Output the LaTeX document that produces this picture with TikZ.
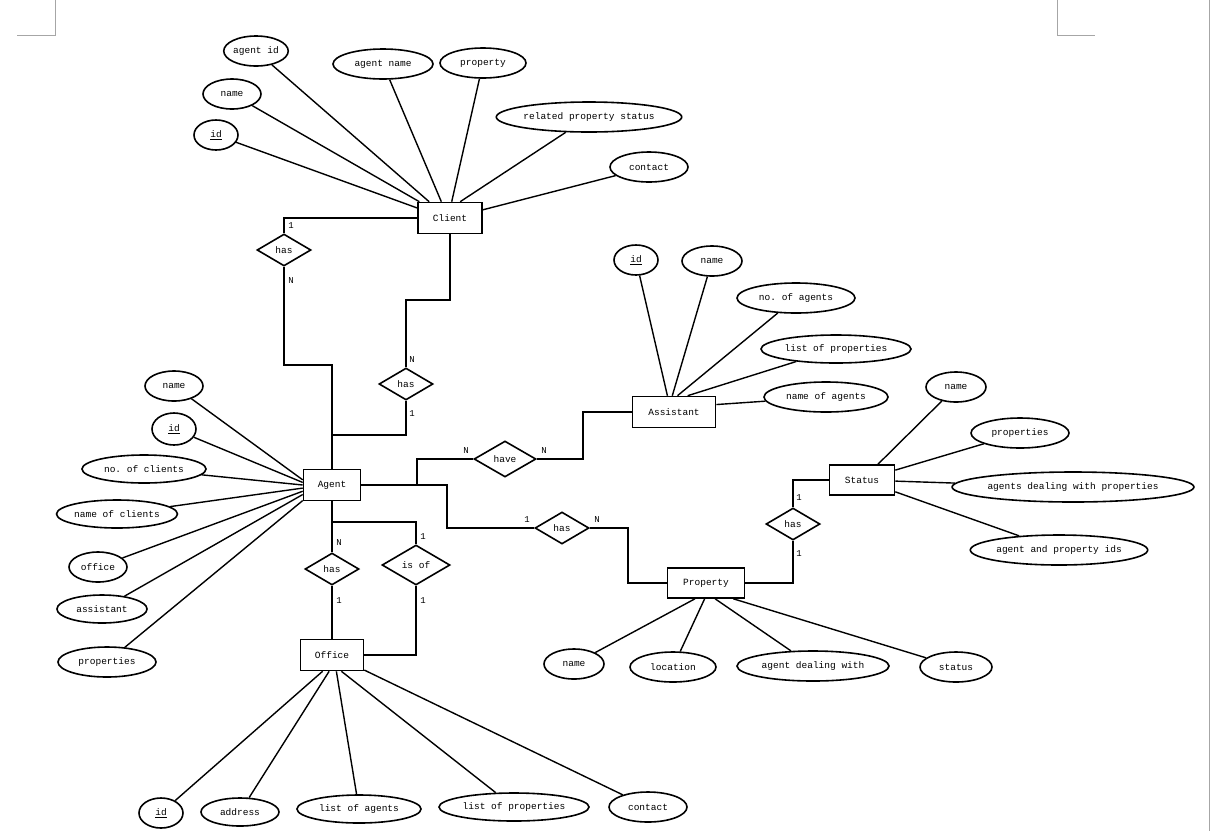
\documentclass[tikz,border=0pt]{standalone}
\usepackage{fontspec}
\setmonofont{Liberation Mono}
\usetikzlibrary{shapes.geometric}

\begin{document}
\begin{tikzpicture}[x=1pt,y=-1pt,line width=1.4pt,
    every node/.style={font=\ttfamily\fontsize{9.5}{11}\selectfont},
    entity/.style={rectangle,draw,line width=1.6pt,inner sep=0pt},
    attr/.style={ellipse,draw,line width=1.6pt,inner sep=0pt},
    rel/.style={diamond,draw,line width=1.6pt,inner sep=0pt,aspect=1.7},
    card/.style={font=\ttfamily\fontsize{9}{10}\selectfont,inner sep=0pt}]

  \useasboundingbox (0,0) rectangle (1212,831);
  % page marks
  \draw[gray!70,thin] (55,0) -- (55,35) -- (17,35);
  \draw[gray!70,thin] (1057,0) -- (1057,35) -- (1095,35);
  \draw[gray!70,thin] (1209,0) -- (1209,831);

  % entities
  \node[entity,minimum width=64,minimum height=31] (client) at (450,218) {Client};
  \node[entity,minimum width=57,minimum height=31] (agent) at (332,485) {Agent};
  \node[entity,minimum width=83,minimum height=31] (assistant) at (674,412) {Assistant};
  \node[entity,minimum width=65,minimum height=30] (status) at (862,480) {Status};
  \node[entity,minimum width=77,minimum height=30] (property) at (706,583) {Property};
  \node[entity,minimum width=63,minimum height=31] (office) at (332,655) {Office};

  % relationships
  \node[rel,minimum width=54,minimum height=32] (hasCA) at (284,250) {has};
  \node[rel,minimum width=54,minimum height=32] (hasAC) at (406,384) {has};
  \node[rel,minimum width=62,minimum height=36] (have) at (505,459) {have};
  \node[rel,minimum width=54,minimum height=32] (hasAP) at (562,528) {has};
  \node[rel,minimum width=54,minimum height=32] (hasAO) at (332,569) {has};
  \node[rel,minimum width=68,minimum height=40] (isof) at (416,565) {is of};
  \node[rel,minimum width=54,minimum height=32] (hasSP) at (793,524) {has};

  % client attributes
  \node[attr,minimum width=58,minimum height=30] (cAgentId) at (256,51) {agent id};
  \node[attr,minimum width=58,minimum height=30] (cName) at (232,94) {name};
  \node[attr,minimum width=44,minimum height=30] (cId) at (216,135) {\underline{id}};
  \node[attr,minimum width=100,minimum height=30] (cAgentName) at (383,64) {agent name};
  \node[attr,minimum width=86,minimum height=30] (cProperty) at (483,63) {property};
  \node[attr,minimum width=184,minimum height=30] (cStatus) at (589,117) {related property status};
  \node[attr,minimum width=78,minimum height=30] (cContact) at (649,167) {contact};
  \foreach \a/\p in {cAgentId/142,cName/152,cId/163,cAgentName/118,cProperty/84,cStatus/58,cContact/14}
    \draw (\a) -- (client.\p);

  % assistant attributes
  \node[attr,minimum width=44,minimum height=30] (sId) at (636,260) {\underline{id}};
  \node[attr,minimum width=60,minimum height=30] (sName) at (712,261) {name};
  \node[attr,minimum width=118,minimum height=30] (sNoAgents) at (796,298) {no. of agents};
  \node[attr,minimum width=150,minimum height=28] (sList) at (836,349) {list of properties};
  \node[attr,minimum width=124,minimum height=30] (sNames) at (826,397) {name of agents};
  \foreach \a/\p in {sId/112,sName/96,sNoAgents/78,sList/50,sNames/10}
    \draw (\a) -- (assistant.\p);

  % status attributes
  \node[attr,minimum width=60,minimum height=30] (tName) at (956,387) {name};
  \node[attr,minimum width=98,minimum height=30] (tProps) at (1020,433) {properties};
  \node[attr,minimum width=230,minimum height=30] (tDealing) at (1073,487) {agents dealing with properties};
  \node[attr,minimum width=176,minimum height=30] (tIds) at (1059,550) {agent and property ids};
  \foreach \a in {tName,tProps,tDealing,tIds}
    \draw (\a) -- (status);

  % agent attributes
  \node[attr,minimum width=58,minimum height=30] (aName) at (174,386) {name};
  \node[attr,minimum width=44,minimum height=32] (aId) at (174,429) {\underline{id}};
  \node[attr,minimum width=124,minimum height=28] (aNoClients) at (144,469) {no. of clients};
  \node[attr,minimum width=116,minimum height=28] (aClients) at (117,514) {name of clients};
  \node[attr,minimum width=58,minimum height=30] (aOffice) at (98,567) {office};
  \node[attr,minimum width=90,minimum height=28] (aAssistant) at (102,609) {assistant};
  \node[attr,minimum width=98,minimum height=30] (aProps) at (107,662) {properties};
  \foreach \a/\p in {aName/170,aId/175,aNoClients/180,aClients/186,aOffice/192,aAssistant/198,aProps/208}
    \draw (\a) -- (agent.\p);

  % property attributes
  \node[attr,minimum width=60,minimum height=30] (pName) at (574,664) {name};
  \node[attr,minimum width=86,minimum height=30] (pLocation) at (673,667) {location};
  \node[attr,minimum width=152,minimum height=30] (pDealing) at (813,666) {agent dealing with};
  \node[attr,minimum width=72,minimum height=30] (pStatus) at (956,667) {status};
  \foreach \a/\p in {pName/235,pLocation/265,pDealing/300,pStatus/330}
    \draw (\a) -- (property.\p);

  % office attributes
  \node[attr,minimum width=44,minimum height=30] (oId) at (161,813) {\underline{id}};
  \node[attr,minimum width=78,minimum height=28] (oAddress) at (240,812) {address};
  \node[attr,minimum width=124,minimum height=28] (oAgents) at (359,809) {list of agents};
  \node[attr,minimum width=150,minimum height=28] (oProps) at (514,807) {list of properties};
  \node[attr,minimum width=78,minimum height=30] (oContact) at (648,807) {contact};
  \foreach \a/\p in {oId/240,oAddress/260,oAgents/285,oProps/300,oContact/335}
    \draw (\a) -- (office.\p);

  % connectors
  \draw (client.west) -| (hasCA.north);
  \draw (hasCA.south) |- (332,365) -- (agent.north);
  \draw (client.south) |- (406,300) -- (hasAC.north);
  \draw (hasAC.south) |- (332,435);
  \draw (agent.east) -| (447,528) -- (hasAP.west);
  \draw (hasAP.east) -| (628,583) -- (property.west);
  \draw (417,485) |- (have.west);
  \draw (have.east) -| (583,412) -- (assistant.west);
  \draw (agent.south) -- (hasAO.north);
  \draw (hasAO.south) -- (office.north);
  \draw (332,522) -| (isof.north);
  \draw (isof.south) |- (office.east);
  \draw (status.west) -| (hasSP.north);
  \draw (hasSP.south) |- (property.east);

  % cardinalities
  \node[card] at (291,226) {1};
  \node[card] at (291,281) {N};
  \node[card] at (412,360) {N};
  \node[card] at (412,414) {1};
  \node[card] at (466,451) {N};
  \node[card] at (544,451) {N};
  \node[card] at (527,520) {1};
  \node[card] at (597,520) {N};
  \node[card] at (339,543) {N};
  \node[card] at (339,601) {1};
  \node[card] at (423,537) {1};
  \node[card] at (423,601) {1};
  \node[card] at (799,498) {1};
  \node[card] at (799,554) {1};
\end{tikzpicture}
\end{document}
